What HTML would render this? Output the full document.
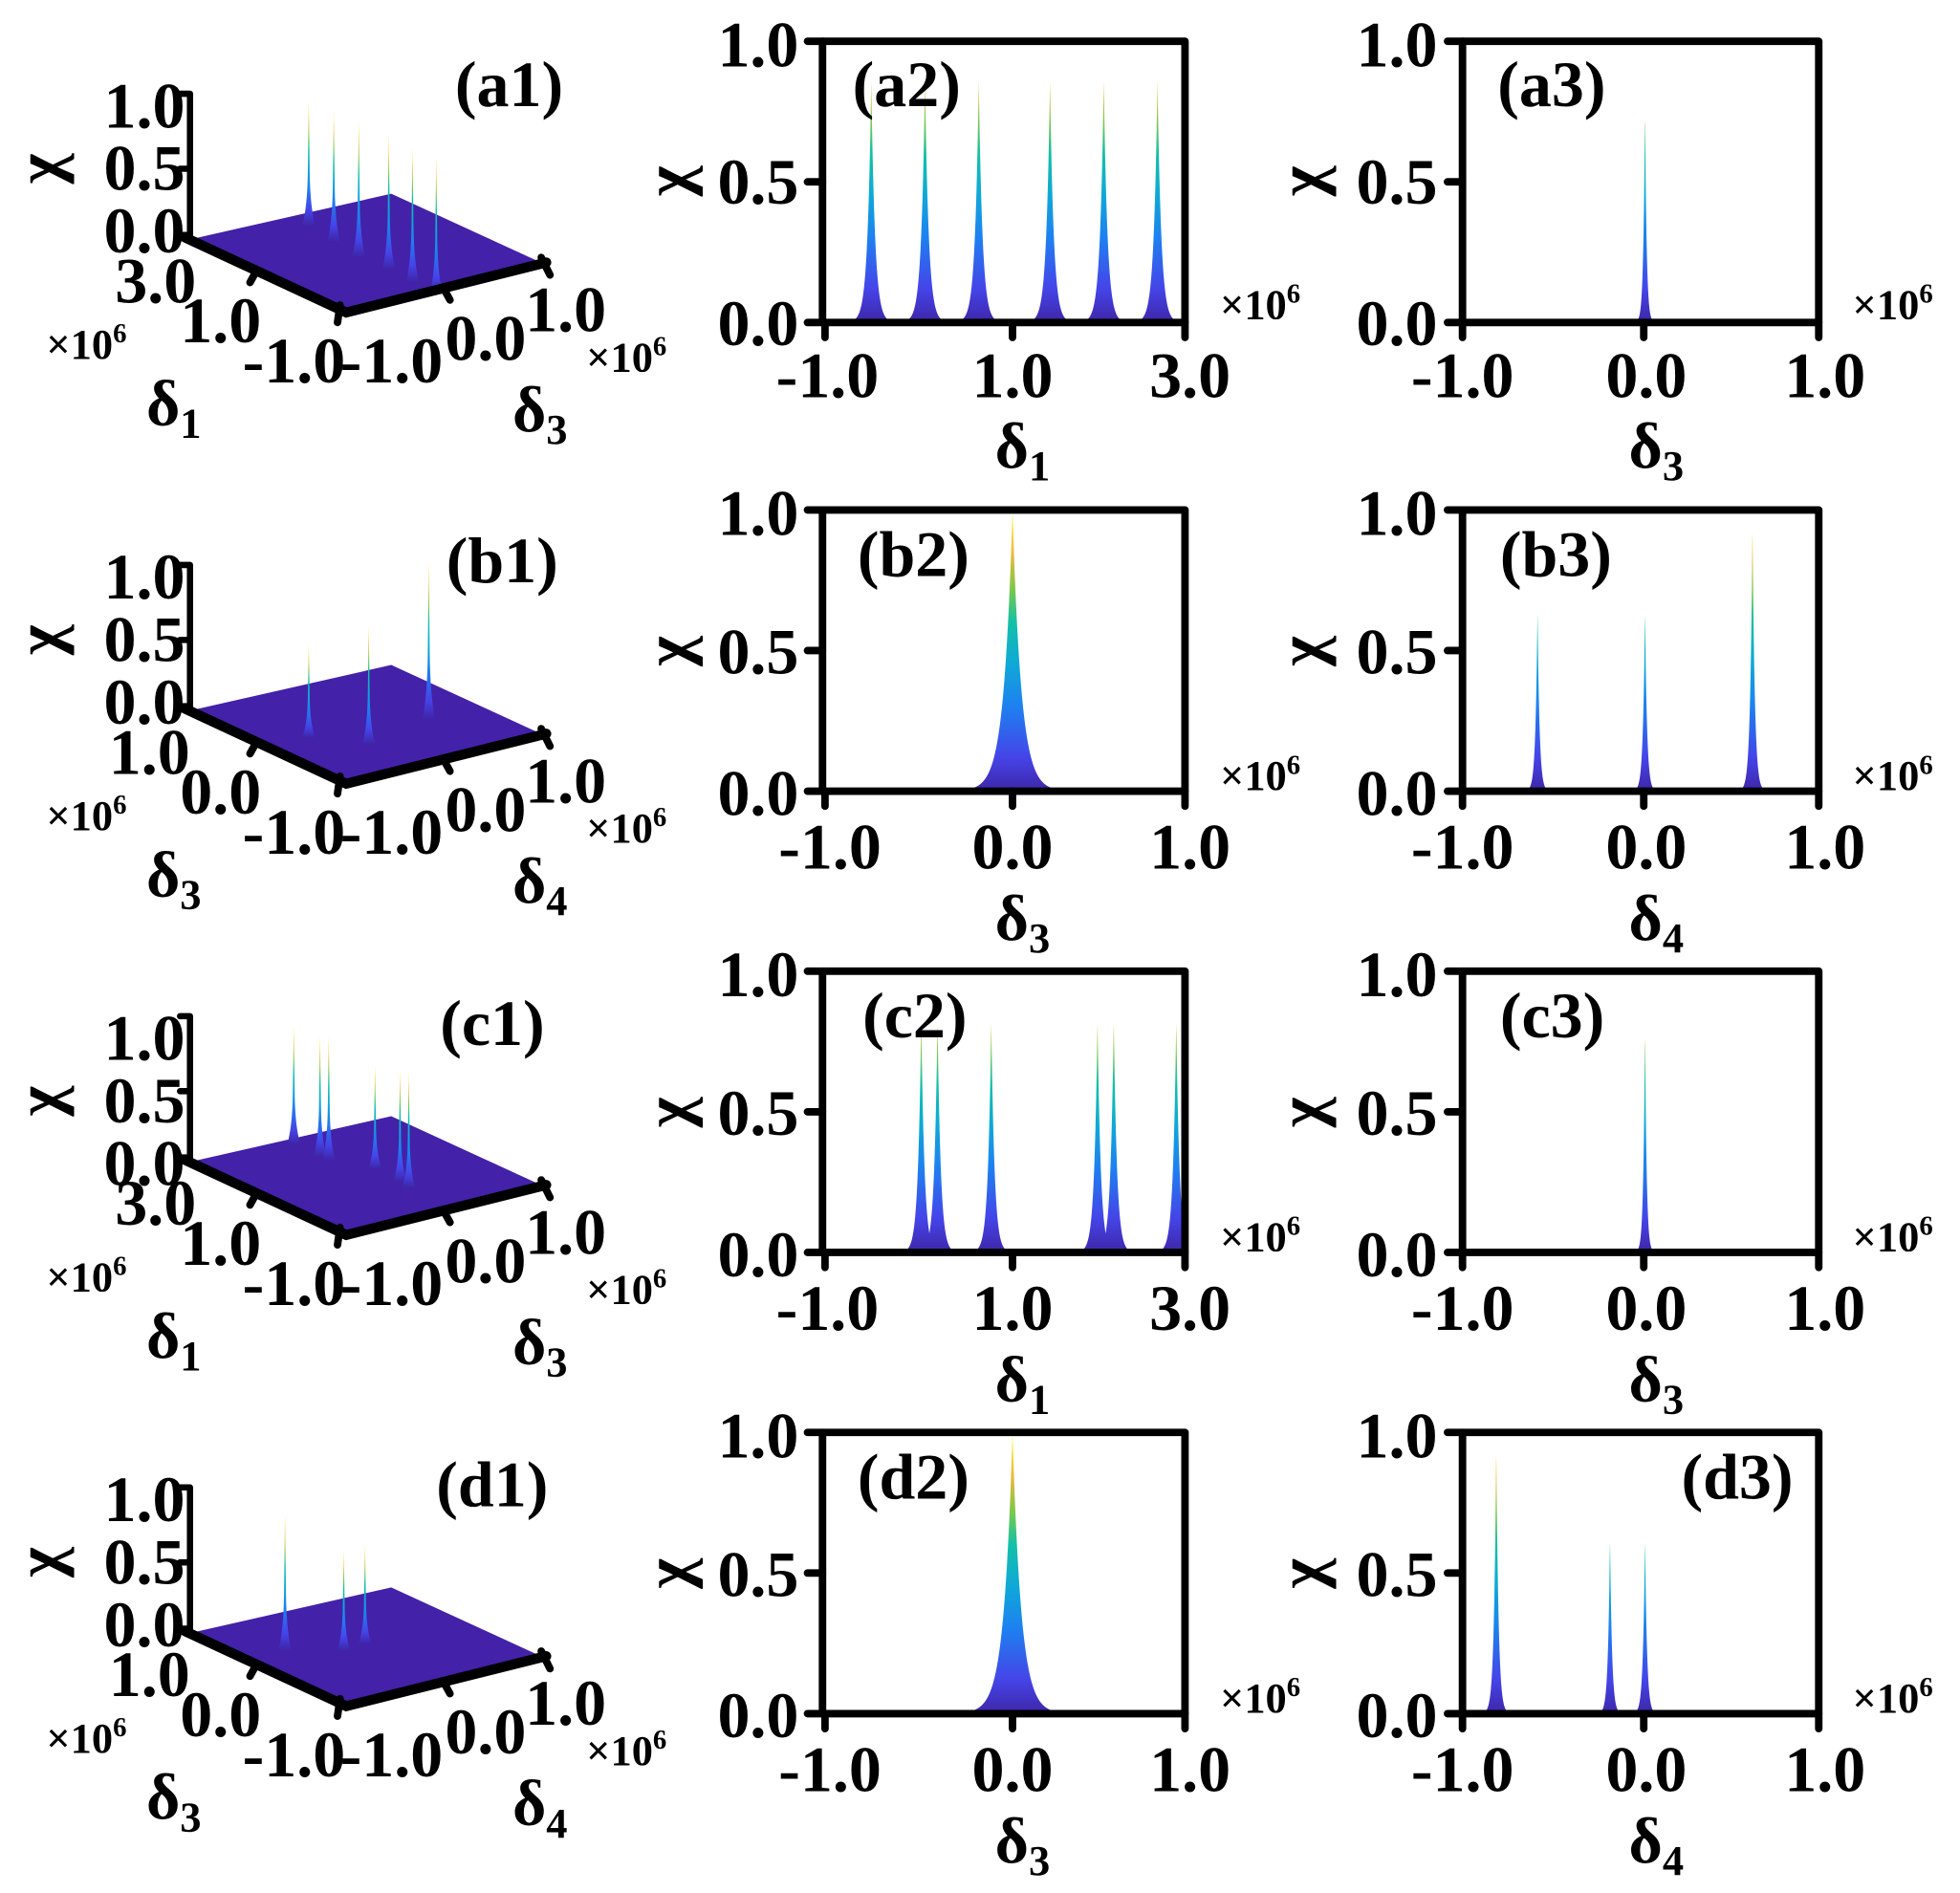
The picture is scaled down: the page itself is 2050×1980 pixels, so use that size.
<!DOCTYPE html>
<html><head><meta charset="utf-8"><style>
html,body{margin:0;padding:0;background:#fff}
svg{display:block}
text{font-family:"Liberation Serif",serif;font-weight:bold;fill:#000}
.t{font-size:52px}
.s{font-size:34px;font-weight:normal}
.l{font-size:52px}
</style></head><body>
<svg id="sv" width="2050" height="1980" viewBox="0 0 1568 1514.5" preserveAspectRatio="none" xmlns="http://www.w3.org/2000/svg">
<defs>
<linearGradient id="pg" x1="0" y1="1" x2="0" y2="0">
<stop offset="0" stop-color="#3e26a8"/><stop offset="0.12" stop-color="#4544e8"/><stop offset="0.3" stop-color="#1e80f0"/><stop offset="0.45" stop-color="#0fa8d8"/><stop offset="0.6" stop-color="#14c0a8"/><stop offset="0.72" stop-color="#7cc84a"/><stop offset="0.85" stop-color="#f2b83c"/><stop offset="1" stop-color="#f9fb15"/>
</linearGradient>
</defs>
<g id="g"></g>
<g class="t">
<text x="639" y="53" text-anchor="end">1.0</text><text x="639" y="163" text-anchor="end">0.5</text><text x="639" y="276" text-anchor="end">0.0</text>
<text x="662" y="318" text-anchor="middle">-1.0</text><text x="810" y="318" text-anchor="middle">1.0</text><text x="952" y="318" text-anchor="middle">3.0</text>
<text x="1150" y="53" text-anchor="end">1.0</text><text x="1150" y="163" text-anchor="end">0.5</text><text x="1150" y="276" text-anchor="end">0.0</text>
<text x="1170" y="318" text-anchor="middle">-1.0</text><text x="1317" y="318" text-anchor="middle">0.0</text><text x="1460" y="318" text-anchor="middle">1.0</text>
<text x="639" y="428" text-anchor="end">1.0</text><text x="639" y="539" text-anchor="end">0.5</text><text x="639" y="652" text-anchor="end">0.0</text>
<text x="664" y="695" text-anchor="middle">-1.0</text><text x="810" y="695" text-anchor="middle">0.0</text><text x="952" y="695" text-anchor="middle">1.0</text>
<text x="1150" y="428" text-anchor="end">1.0</text><text x="1150" y="539" text-anchor="end">0.5</text><text x="1150" y="652" text-anchor="end">0.0</text>
<text x="1170" y="695" text-anchor="middle">-1.0</text><text x="1317" y="695" text-anchor="middle">0.0</text><text x="1460" y="695" text-anchor="middle">1.0</text>
<text x="639" y="797" text-anchor="end">1.0</text><text x="639" y="908" text-anchor="end">0.5</text><text x="639" y="1021" text-anchor="end">0.0</text>
<text x="662" y="1064" text-anchor="middle">-1.0</text><text x="810" y="1064" text-anchor="middle">1.0</text><text x="952" y="1064" text-anchor="middle">3.0</text>
<text x="1150" y="797" text-anchor="end">1.0</text><text x="1150" y="908" text-anchor="end">0.5</text><text x="1150" y="1021" text-anchor="end">0.0</text>
<text x="1170" y="1064" text-anchor="middle">-1.0</text><text x="1317" y="1064" text-anchor="middle">0.0</text><text x="1460" y="1064" text-anchor="middle">1.0</text>
<text x="639" y="1166" text-anchor="end">1.0</text><text x="639" y="1277" text-anchor="end">0.5</text><text x="639" y="1390" text-anchor="end">0.0</text>
<text x="664" y="1433" text-anchor="middle">-1.0</text><text x="810" y="1433" text-anchor="middle">0.0</text><text x="952" y="1433" text-anchor="middle">1.0</text>
<text x="1150" y="1166" text-anchor="end">1.0</text><text x="1150" y="1277" text-anchor="end">0.5</text><text x="1150" y="1390" text-anchor="end">0.0</text>
<text x="1170" y="1433" text-anchor="middle">-1.0</text><text x="1317" y="1433" text-anchor="middle">0.0</text><text x="1460" y="1433" text-anchor="middle">1.0</text>
<text x="682" y="85">(a2)</text><text x="1198" y="85">(a3)</text>
<text x="686" y="461">(b2)</text><text x="1200" y="461">(b3)</text>
<text x="690" y="830">(c2)</text><text x="1200" y="830">(c3)</text>
<text x="686" y="1199">(d2)</text><text x="1345" y="1199">(d3)</text>
<text x="364" y="85">(a1)</text><text x="357" y="466">(b1)</text><text x="352" y="836">(c1)</text><text x="349" y="1205">(d1)</text>
<text x="148" y="102" text-anchor="end">1.0</text><text x="148" y="152" text-anchor="end">0.5</text><text x="148" y="202" text-anchor="end">0.0</text>
<text x="148" y="479" text-anchor="end">1.0</text><text x="148" y="529" text-anchor="end">0.5</text><text x="148" y="579" text-anchor="end">0.0</text>
<text x="148" y="848" text-anchor="end">1.0</text><text x="148" y="898" text-anchor="end">0.5</text><text x="148" y="948" text-anchor="end">0.0</text>
<text x="148" y="1217" text-anchor="end">1.0</text><text x="148" y="1267" text-anchor="end">0.5</text><text x="148" y="1317" text-anchor="end">0.0</text>
</g>
<g class="t">
<text x="92" y="242">3.0</text><text x="144" y="274">1.0</text><text x="194" y="306">-1.0</text><text x="272" y="306">-1.0</text><text x="356" y="288">0.0</text><text x="420" y="265">1.0</text>
<text x="87" y="619">1.0</text><text x="144" y="651">0.0</text><text x="194" y="683">-1.0</text><text x="272" y="683">-1.0</text><text x="356" y="665">0.0</text><text x="420" y="642">1.0</text>
<text x="92" y="980">3.0</text><text x="144" y="1012">1.0</text><text x="194" y="1044">-1.0</text><text x="272" y="1044">-1.0</text><text x="356" y="1026">0.0</text><text x="420" y="1003">1.0</text>
<text x="87" y="1357">1.0</text><text x="144" y="1389">0.0</text><text x="194" y="1421">-1.0</text><text x="272" y="1421">-1.0</text><text x="356" y="1403">0.0</text><text x="420" y="1380">1.0</text>
</g>
<g class="l" font-weight="normal">
<text transform="translate(48,135) rotate(-90)" text-anchor="middle">χ</text>
<text transform="translate(48,512) rotate(-90)" text-anchor="middle">χ</text>
<text transform="translate(48,881) rotate(-90)" text-anchor="middle">χ</text>
<text transform="translate(48,1250) rotate(-90)" text-anchor="middle">χ</text>
<text transform="translate(551,145) rotate(-90)" text-anchor="middle">χ</text>
<text transform="translate(551,521) rotate(-90)" text-anchor="middle">χ</text>
<text transform="translate(551,890) rotate(-90)" text-anchor="middle">χ</text>
<text transform="translate(551,1259) rotate(-90)" text-anchor="middle">χ</text>
<text transform="translate(1058,145) rotate(-90)" text-anchor="middle">χ</text>
<text transform="translate(1058,521) rotate(-90)" text-anchor="middle">χ</text>
<text transform="translate(1058,890) rotate(-90)" text-anchor="middle">χ</text>
<text transform="translate(1058,1259) rotate(-90)" text-anchor="middle">χ</text>
</g>
<g class="l">
<text x="796" y="374">δ<tspan font-size="34" dy="10">1</tspan></text>
<text x="1303" y="374">δ<tspan font-size="34" dy="10">3</tspan></text>
<text x="796" y="752">δ<tspan font-size="34" dy="10">3</tspan></text>
<text x="1303" y="752">δ<tspan font-size="34" dy="10">4</tspan></text>
<text x="796" y="1121">δ<tspan font-size="34" dy="10">1</tspan></text>
<text x="1303" y="1121">δ<tspan font-size="34" dy="10">3</tspan></text>
<text x="796" y="1490">δ<tspan font-size="34" dy="10">3</tspan></text>
<text x="1303" y="1490">δ<tspan font-size="34" dy="10">4</tspan></text>
<text x="117" y="340">δ<tspan font-size="34" dy="10">1</tspan></text>
<text x="410" y="345">δ<tspan font-size="34" dy="10">3</tspan></text>
<text x="117" y="717">δ<tspan font-size="34" dy="10">3</tspan></text>
<text x="410" y="722">δ<tspan font-size="34" dy="10">4</tspan></text>
<text x="117" y="1086">δ<tspan font-size="34" dy="10">1</tspan></text>
<text x="410" y="1091">δ<tspan font-size="34" dy="10">3</tspan></text>
<text x="117" y="1455">δ<tspan font-size="34" dy="10">3</tspan></text>
<text x="410" y="1460">δ<tspan font-size="34" dy="10">4</tspan></text>
</g>
<g class="s">
<text x="976" y="255">×10<tspan font-size="22" dy="-13">6</tspan></text>
<text x="1482" y="255">×10<tspan font-size="22" dy="-13">6</tspan></text>
<text x="976" y="632">×10<tspan font-size="22" dy="-13">6</tspan></text>
<text x="1482" y="632">×10<tspan font-size="22" dy="-13">6</tspan></text>
<text x="976" y="1001">×10<tspan font-size="22" dy="-13">6</tspan></text>
<text x="1482" y="1001">×10<tspan font-size="22" dy="-13">6</tspan></text>
<text x="976" y="1370">×10<tspan font-size="22" dy="-13">6</tspan></text>
<text x="1482" y="1370">×10<tspan font-size="22" dy="-13">6</tspan></text>
<text x="37" y="287">×10<tspan font-size="22" dy="-13">6</tspan></text>
<text x="469" y="297">×10<tspan font-size="22" dy="-13">6</tspan></text>
<text x="37" y="664">×10<tspan font-size="22" dy="-13">6</tspan></text>
<text x="469" y="674">×10<tspan font-size="22" dy="-13">6</tspan></text>
<text x="37" y="1033">×10<tspan font-size="22" dy="-13">6</tspan></text>
<text x="469" y="1043">×10<tspan font-size="22" dy="-13">6</tspan></text>
<text x="37" y="1402">×10<tspan font-size="22" dy="-13">6</tspan></text>
<text x="469" y="1412">×10<tspan font-size="22" dy="-13">6</tspan></text>
</g>
</svg>
<script>
var NS="http://www.w3.org/2000/svg",g=document.getElementById('g');
function el(t,a){var e=document.createElementNS(NS,t);for(var k in a)e.setAttribute(k,a[k]);g.appendChild(e);return e;}
var rows=[33,408,777,1146],H=225;
var gi=0;
function grad(yb){var id='gr'+(gi++);var lg=document.createElementNS(NS,'linearGradient');
lg.setAttribute('id',id);lg.setAttribute('gradientUnits','userSpaceOnUse');lg.setAttribute('x1',0);lg.setAttribute('x2',0);lg.setAttribute('y1',yb);lg.setAttribute('y2',yb-H);
document.querySelectorAll('#pg stop').forEach(function(s){lg.appendChild(s.cloneNode());});
document.querySelector('defs').appendChild(lg);return id;}
function peak(c,h,w,yb,id,xl,xr){var d='M'+Math.max(xl,c-w*7)+','+yb;
for(var x=c-w*7;x<=c+w*7;x+=0.25){if(x<xl||x>xr)continue;var y=yb-h*H*Math.exp(-Math.abs(x-c)/w);d+=' L'+x.toFixed(2)+','+y.toFixed(2);}
d+=' L'+Math.min(xr,c+w*7)+','+yb+'Z';el('path',{d:d,fill:'url(#'+id+')'});}
function frame(xl,xr,yt,ybm,xt){
el('rect',{x:xl,y:yt,width:xr-xl,height:ybm-yt,fill:'none',stroke:'#000','stroke-width':6,'stroke-linejoin':'round'});
[yt,(yt+ybm)/2,ybm].forEach(function(y){el('line',{x1:xl-12,x2:xl,y1:y,y2:y,stroke:'#000','stroke-width':6,'stroke-linecap':'round'});});
xt.forEach(function(x){el('line',{x1:x,x2:x,y1:ybm,y2:ybm+12,stroke:'#000','stroke-width':6,'stroke-linecap':'round'});});}
var P2=[[[697,.86,3],[740,.86,3],[783,.86,3],[840,.86,3],[883,.86,3],[926,.86,3]],
[[810,1,7]],
[[737,.83,2.6],[750,.83,2.6],[793,.83,2.6],[878,.83,2.6],[891,.83,2.6],[941,.83,2.6]],
[[810,1,7]]];
var P3=[[[1316,.78,1.3]],[[1230,.65,1.6],[1316,.65,1.6],[1402,.97,1.8]],[[1316,.82,1.3]],[[1197,.97,1.8],[1288,.63,1.6],[1316,.63,1.6]]];
rows.forEach(function(yt,i){var yb=yt+H;var id=grad(yb);
P2[i].forEach(function(p){peak(p[0],p[1],p[2],yb,id,658,948);});
P3[i].forEach(function(p){peak(p[0],p[1],p[2],yb,id,1170,1455);});
frame(658,948,yt,yb,[660,810,948]);frame(1170,1455,yt,yb,[1170,1315,1455]);});
var S=[[[247,80,180],[267,88,193],[287,96,205],[311,107,215],[330,117,225],[349,124,235]],
[[247,515,590],[295,500,595],[343,448,575]],
[[235,820,915],[256,828,925],[263,828,928],[300,852,935],[320,855,945],[327,857,950]],
[[228,1210,1320],[275,1240,1320],[292,1235,1315]]];
var off=[0,377,738,1115];
off.forEach(function(o,i){
el('polygon',{points:'150,'+(192+o)+' 277,'+(250+o)+' 437,'+(212+o)+' 313,'+(155+o),fill:'#4321a9'});
S[i].forEach(function(s){var id='sp'+i+'_'+s[0];
var lg=document.createElementNS(NS,'linearGradient');lg.setAttribute('id',id);lg.setAttribute('x1',0);lg.setAttribute('x2',0);lg.setAttribute('y1',1);lg.setAttribute('y2',0);
document.querySelectorAll('#pg stop').forEach(function(st){lg.appendChild(st.cloneNode());});document.querySelector('defs').appendChild(lg);
var x=s[0],t=s[1],b=s[2],h=b-t;
el('path',{d:'M'+(x-5)+','+b+' Q'+(x-1.2)+','+(b-h*0.15)+' '+(x-0.8)+','+(b-h*0.4)+' L'+x+','+t+' L'+(x+0.8)+','+(b-h*0.4)+' Q'+(x+1.2)+','+(b-h*0.15)+' '+(x+5)+','+b+'Z',fill:'url(#'+id+')'});});
el('line',{x1:152,y1:75+o,x2:152,y2:190+o,stroke:'#000','stroke-width':5});
[75,135,188].forEach(function(y){el('line',{x1:144,x2:152,y1:y+o,y2:y+o,stroke:'#000','stroke-width':5,'stroke-linecap':'round'});});
el('polyline',{points:'148,'+(190+o)+' 277,'+(250+o)+' 437,'+(210+o),fill:'none',stroke:'#000','stroke-width':8,'stroke-linecap':'round'});
el('line',{x1:272,y1:244+o,x2:270,y2:258+o,stroke:'#000','stroke-width':6,'stroke-linecap':'round'});
el('line',{x1:205,y1:217+o,x2:200,y2:226+o,stroke:'#000','stroke-width':6,'stroke-linecap':'round'});
el('line',{x1:355,y1:231+o,x2:360,y2:240+o,stroke:'#000','stroke-width':6,'stroke-linecap':'round'});
el('line',{x1:433,y1:206+o,x2:440,y2:220+o,stroke:'#000','stroke-width':6,'stroke-linecap':'round'});
});
</script>
</body></html>
